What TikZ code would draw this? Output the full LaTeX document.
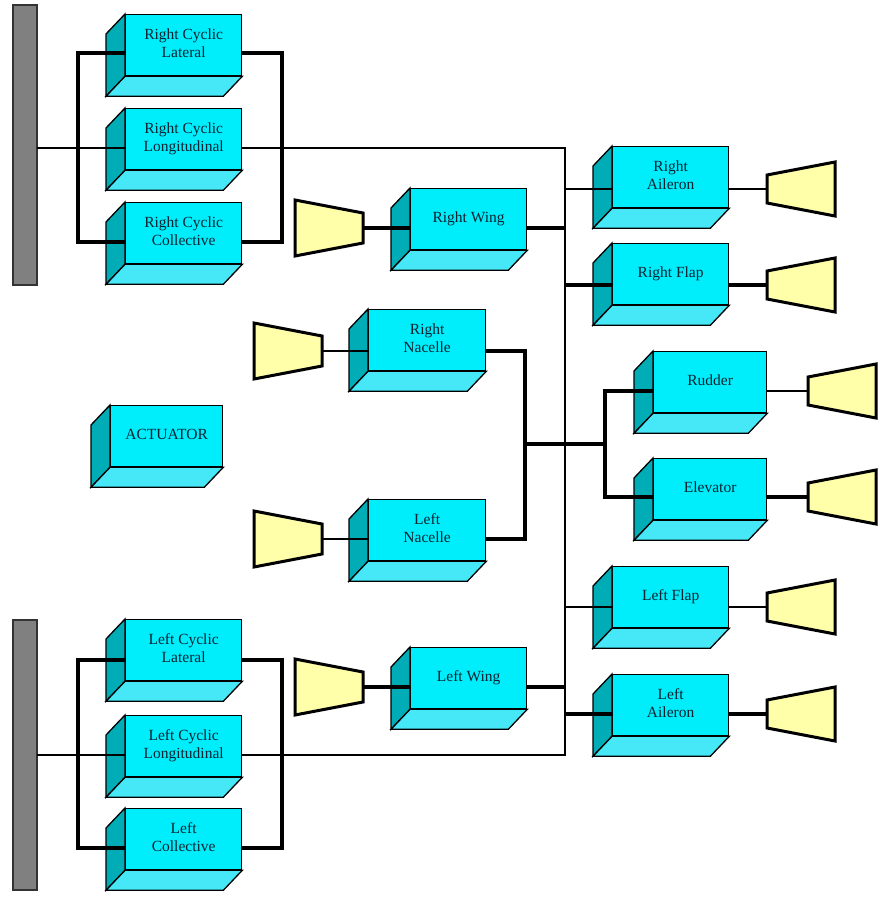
\documentclass[tikz,border=0pt]{standalone}
\usepackage{fontspec}
\setmainfont{Liberation Serif}
\usetikzlibrary{calc}
\definecolor{frontc}{RGB}{0,238,252}
\definecolor{sidec}{RGB}{0,172,182}
\definecolor{botc}{RGB}{70,232,248}
\definecolor{trapc}{RGB}{255,255,170}
\definecolor{txtc}{RGB}{10,35,50}
\tikzset{
  front/.style={draw=black,line width=1.3pt,fill=frontc,minimum height=61pt,inner sep=0pt,
    anchor=north west,text=txtc,font=\fontsize{15.5}{18}\selectfont},
  face/.style={draw=black,line width=1.3pt,line join=miter},
  thin/.style={line width=1.6pt},
  thick/.style={line width=3.4pt},
  trap/.style={draw=black,line width=3pt,fill=trapc,line join=miter},
  bar/.style={draw=black!80,line width=1.2pt,fill=black!50}
}
\newcommand\blk[5]{%
  \node[front,minimum width=#4pt] (#1) at (#2,#3) {\raisebox{5pt}{\begin{tabular}{@{}c@{}}#5\end{tabular}}};
  \draw[face,fill=sidec] (#1.north west) -- ++(-19,20) -- ($(#1.south west)+(-19,20)$) -- (#1.south west) -- cycle;
  \draw[face,fill=botc] (#1.south west) -- ++(-19,20) -- ($(#1.south east)+(-19,20)$) -- (#1.south east) -- cycle;
}
\newcommand\trapL[3]{%
  \draw[trap] (#2,#3-28) -- (#2+68,#3-15) -- (#2+68,#3+15) -- (#2,#3+28) -- cycle;
  \coordinate (#1) at (#2+68,#3);
}
\newcommand\trapR[3]{%
  \draw[trap] (#2,#3-14) -- (#2+68,#3-27) -- (#2+68,#3+27) -- (#2,#3+14) -- cycle;
  \coordinate (#1) at (#2,#3);
}
\begin{document}
\begin{tikzpicture}[x=1pt,y=-1pt]
\useasboundingbox (0,0) rectangle (879,897);
\draw[bar] (13,5) rectangle (37,285);
\draw[bar] (13,620) rectangle (37,890);
\coordinate (barT) at (37,148);
\coordinate (barB) at (37,755);
\blk{rclat}{125}{14}{116}{Right Cyclic\\Lateral}
\blk{rclong}{125}{108}{116}{Right Cyclic\\Longitudinal}
\blk{rccoll}{125}{202}{116}{Right Cyclic\\Collective}
\blk{rwing}{410}{188}{116}{Right Wing}
\blk{rnac}{368}{309}{117}{Right\\Nacelle}
\blk{lnac}{368}{499}{117}{Left\\Nacelle}
\blk{act}{110}{405}{112}{ACTUATOR}
\blk{lwing}{410}{647}{116}{Left Wing}
\blk{lclat}{125}{619}{116}{Left Cyclic\\Lateral}
\blk{lclong}{125}{715}{116}{Left Cyclic\\Longitudinal}
\blk{lcoll}{125}{808}{116}{Left\\Collective}
\blk{rail}{612}{146}{116}{Right\\Aileron}
\blk{rflap}{612}{243}{116}{Right Flap}
\blk{rudder}{653}{351}{113}{Rudder}
\blk{elev}{653}{458}{113}{Elevator}
\blk{lflap}{612}{566}{116}{Left Flap}
\blk{lail}{612}{674}{116}{Left\\Aileron}
\trapL{trw}{295}{228}
\trapL{trn}{254}{351}
\trapL{tln}{254}{539}
\trapL{tlw}{295}{687}
\trapR{tra}{767}{189}
\trapR{trf}{767}{285}
\trapR{tru}{808}{391}
\trapR{tel}{808}{497}
\trapR{tlf}{767}{607}
\trapR{tla}{767}{714}
\draw[thin] (barT) -- (rclong.west |- barT);
\draw[thick] (rclat.west |- 0,53) -| (78,242) -- (rccoll.west |- 0,242);
\draw[thick] (rclat.east |- 0,53) -| (282,242) -- (rccoll.east |- 0,242);
\coordinate (vtop) at (565,148);
\coordinate (vbot) at (565,755);
\draw[thin] (rclong.east |- 0,148) -- (vtop) -- (vbot) -- (lclong.east |- 0,755);
\draw[thin] (barB) -- (lclong.west |- barB);
\draw[thick] (lclat.west |- 0,660) -| (78,848) -- (lcoll.west |- 0,848);
\draw[thick] (lclat.east |- 0,660) -| (282,848) -- (lcoll.east |- 0,848);
\draw[thick] (trw) -- (rwing.west |- trw);
\draw[thick] (rwing.east |- 0,228) -- (565,228);
\draw[thin] (565,189) -- (rail.west |- tra);
\draw[thin] (rail.east |- tra) -- (tra);
\draw[thick] (565,285) -- (rflap.west |- trf);
\draw[thick] (rflap.east |- trf) -- (trf);
\draw[thick] (tlw) -- (lwing.west |- tlw);
\draw[thick] (lwing.east |- tlw) -- (565,687);
\draw[thin] (565,607) -- (lflap.west |- tlf);
\draw[thin] (lflap.east |- tlf) -- (tlf);
\draw[thick] (565,714) -- (lail.west |- tla);
\draw[thick] (lail.east |- tla) -- (tla);
\draw[thin] (trn) -- (rnac.west |- trn);
\draw[thin] (tln) -- (lnac.west |- tln);
\draw[thick] (rnac.east |- trn) -| (525,539) -- (lnac.east |- tln);
\draw[thick] (525,444) -- (605,444);
\draw[thick] (rudder.west |- tru) -| (605,497) -- (elev.west |- tel);
\draw[thin] (rudder.east |- tru) -- (tru);
\draw[thick] (elev.east |- tel) -- (tel);
\end{tikzpicture}
\end{document}
